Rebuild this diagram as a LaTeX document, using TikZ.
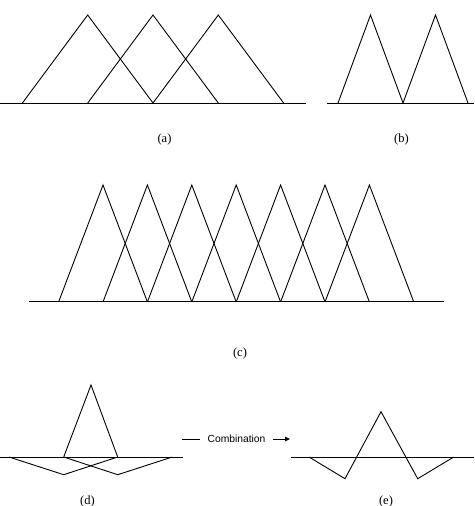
\documentclass[tikz,border=0pt]{standalone}
\usepackage{fontspec}
\setmainfont{Liberation Serif}
\newfontfamily\combfont{Liberation Sans}
\usepackage{tikz}
\usetikzlibrary{arrows.meta}

\begin{document}
\begin{tikzpicture}[x=1pt,y=-1pt,line width=0.9pt,line join=miter,
  lbl/.style={font=\fontsize{12.5}{14}\selectfont,inner sep=0pt},
  cmb/.style={font=\combfont\fontsize{10.3}{12}\selectfont,inner ysep=0pt,inner xsep=7.5pt},
  tip/.style={-{Triangle[length=5pt,width=4.5pt]}}]
\useasboundingbox (0,0) rectangle (474,506);
\draw (0,103) -- (305.7,103);
\foreach \p in %
{87.7,153,218.3} {
   \draw (\p-65.3,103) -- (\p,15) -- (\p+65.3,103);
}
\node[lbl] (la) at (164.5,139.5) {(a)};
\draw (327,103) -- (474,103);
\foreach \p in %
{370.5,435.5} {
   \draw (\p-32.5,103) -- (\p,15) -- (\p+32.5,103);
}
\node[lbl] (lb) at (401.5,139.5) {(b)};
\draw (29.3,301.7) -- (443.7,301.7);
\foreach \i in {0,...,6} {
   \draw ({103+44.4*\i-44.3},301.7) -- ({103+44.4*\i},185) -- ({103+44.4*\i+44.3},301.7);
}
\node[lbl] (lc) at (240,353) {(c)};
\draw (0,457) -- (182.7,457);
\draw (63.7,457) -- (91,385) -- (117.7,457);
\draw (9,457) -- (63.7,474.7) -- (117.7,457);
\draw (63.7,457) -- (117.7,474.7) -- (172.3,457);
\node[lbl] (ld) at (87.5,501.5) {(d)};
\node[cmb] (comb) at (236.5,439) {Combination};
\coordinate (cl) at (181.7,439);
\coordinate (cr) at (290,439);
\draw (cl) -- (comb.west);
\draw[tip] (comb.east) -- (cr);
\draw (290.7,457) -- (474,457);
\draw (309,457) -- (345,478.7) -- (381,411.7) -- (417.7,478.7) -- (453.7,457);
\node[lbl] (le) at (386,501.5) {(e)};
\end{tikzpicture}
\end{document}
